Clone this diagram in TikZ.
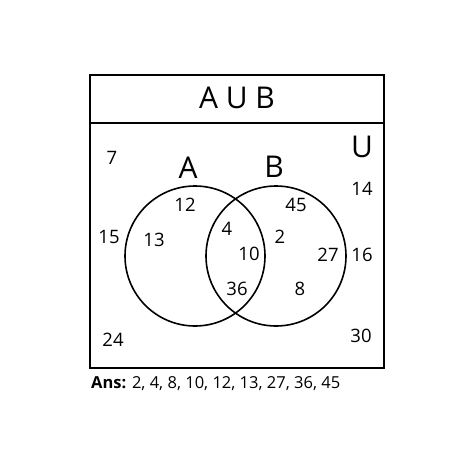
\documentclass[tikz,border=0pt]{standalone}
\usepackage{fontspec}
\setmainfont{Open Sans}
\usetikzlibrary{positioning}

\begin{document}
\begin{tikzpicture}[x=1pt,y=-1pt,
  num/.style={font=\fontsize{18.5}{20}\selectfont, inner sep=0pt},
  setname/.style={font=\fontsize{30}{30}\selectfont, inner sep=0pt},
  setcirc/.style={draw, circle, line width=1.6pt, minimum size=140pt, inner sep=0pt}]
  \useasboundingbox (0,0) rectangle (474,474);

  % frame with title row
  \draw[line width=1.8pt] (90,75) rectangle (384,368);
  \draw[line width=1.8pt] (90,123) -- (384,123);
  \node[setname] (title) at (237,98) {A U B};

  % the two sets
  \node[setcirc] (circA) at (195,256) {};
  \node[setcirc] (circB) at (276,256) {};
  \node[setname] (labA) at (188,168) {A};
  \node[setname] (labB) at (274,167) {B};
  \node[setname] (labU) at (362,147) {U};

  % elements
  \node[num] (e7)  at (112,158) {7};
  \node[num] (e12) at (185,205) {12};
  \node[num] (e45) at (296,205) {45};
  \node[num] (e14) at (362,189) {14};
  \node[num] (e15) at (109,237) {15};
  \node[num] (e13) at (154,240) {13};
  \node[num] (e4)  at (227,229) {4};
  \node[num] (e2)  at (280,237) {2};
  \node[num] (e10) at (249,254) {10};
  \node[num] (e27) at (328,255) {27};
  \node[num] (e16) at (362,255) {16};
  \node[num] (e36) at (237,289) {36};
  \node[num] (e8)  at (300,289) {8};
  \node[num] (e24) at (113,340) {24};
  \node[num] (e30) at (361,336) {30};

  \node[font=\fontsize{16.5}{18}\selectfont, inner sep=0pt, anchor=west] (ans) at (91,384)
    {\textbf{Ans:} 2, 4, 8, 10, 12, 13, 27, 36, 45};
\end{tikzpicture}
\end{document}
